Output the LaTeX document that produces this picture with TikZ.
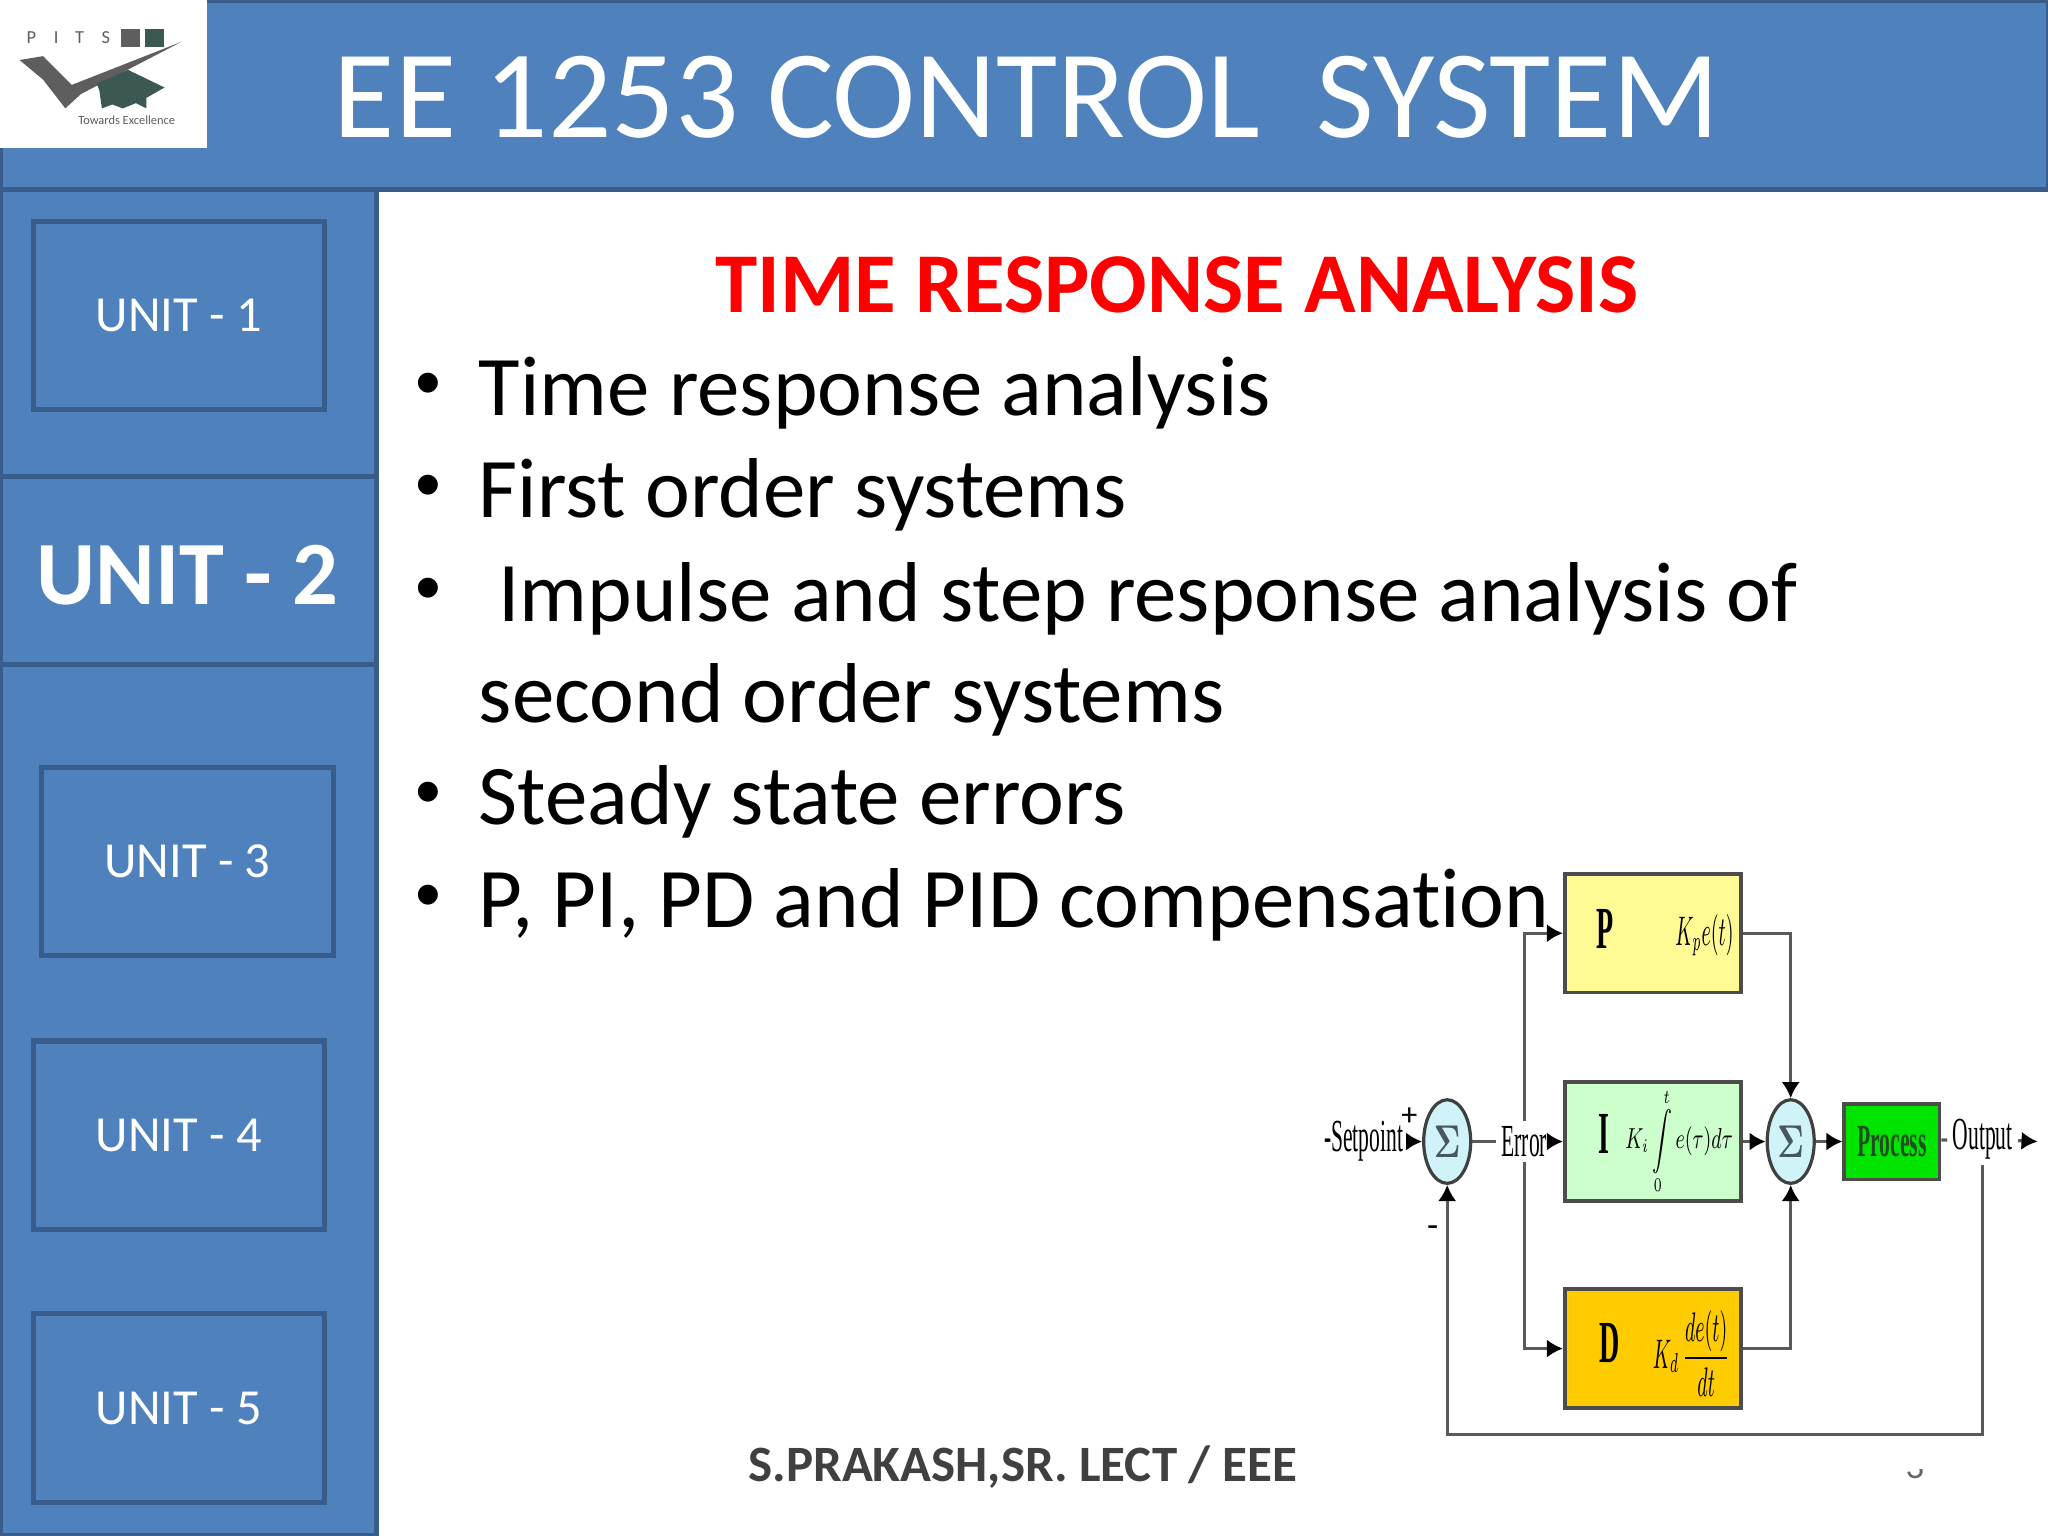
\documentclass[tikz,border=0pt]{standalone}
\usepackage{amsmath}
\usepackage{graphicx}
\usepackage{fontspec}
\setmainfont[Ligatures=NoCommon]{Carlito}
\newfontfamily\blockfont{Liberation Serif}
\newfontfamily\dotfont{Liberation Sans}
\usetikzlibrary{arrows.meta}
\usetikzlibrary{positioning}
\usetikzlibrary{shapes.geometric}
\definecolor{slideblue}{HTML}{4F81BD}
\definecolor{slideedge}{HTML}{385D8A}
\definecolor{linegray}{HTML}{5A5A5A}
\definecolor{logogray}{HTML}{5E5E5E}
\definecolor{logoteal}{HTML}{3C5853}
\definecolor{sigmafill}{HTML}{CFF3F8}
\definecolor{labelgreen}{HTML}{1F4F1F}
\newcommand{\narrowtext}[1]{\scalebox{.47}[1]{#1}}
\tikzset{panel/.style = {fill=slideblue, draw=slideedge, line width=1.1pt},
         unitbox/.style = {draw=slideedge, fill=slideblue, line width=1.1pt,
                           minimum width=2.23cm, minimum height=1.44cm,
                           text=white, font=\fontsize{11}{13}\selectfont},
         bullet/.style = {anchor=base, inner sep=0pt, font=\dotfont\fontsize{16}{19}\selectfont},
         topic/.style = {anchor=base west, inner sep=0pt, font=\fontsize{18.5}{22}\selectfont},
         block/.style = {draw=black!70, line width=.8pt, minimum width=1.35cm,
                         minimum height=.91cm},
         sumnode/.style = {draw=black!75, fill=sigmafill, ellipse, line width=.7pt,
                           minimum width=.36cm, minimum height=.64cm, inner sep=0pt,
                           text=black!70!cyan},
         flowline/.style = {draw=linegray, line width=.7pt},
         flowarrow/.style = {flowline, -{Latex[black,length=3.5pt,width=4pt]}},
         blocklabel/.style = {font=\blockfont\bfseries\fontsize{13}{15}\selectfont, inner sep=0pt},
         signal/.style = {font=\blockfont\fontsize{10}{12}\selectfont, inner sep=1pt, fill=white}}

\begin{document}
\begin{tikzpicture}[y=-1cm]
    \useasboundingbox (0, 0) rectangle (15.68, 11.76);

    % header and side panel
    \draw [panel] (0, 0) rectangle (15.68, 1.45);
    \draw [panel] (0, 1.45) rectangle (2.88, 3.65);
    \draw [panel] (0, 3.65) rectangle (2.88, 5.09);
    \draw [panel] (0, 5.09) rectangle (2.88, 11.76);
    \fill [white] (0, 0) rectangle (1.585, 1.135);

    % logo
    \node (logoP) [font=\fontsize{4}{4}\selectfont, text=logogray] at (.24, .29) {P};
    \node (logoI) [font=\fontsize{4}{4}\selectfont, text=logogray] at (.43, .29) {I};
    \node (logoT) [font=\fontsize{4}{4}\selectfont, text=logogray] at (.61, .29) {T};
    \node (logoS) [font=\fontsize{4}{4}\selectfont, text=logogray] at (.81, .29) {S};
    \fill [logogray] (.93, .22) rectangle (1.07, .36);
    \fill [logoteal] (1.11, .22) rectangle (1.255, .36);
    \fill [logogray] (.15, .46) -- (.33, .43) -- (.55, .65) -- (1.39, .32)
        -- (.62, .72) -- (.5, .83) -- (.33, .61) -- cycle;
    \fill [logoteal] (.74, .64) -- (.98, .535) -- (1.26, .67) -- (1.12, .75)
        -- (1.12, .83) -- (1.04, .79) -- (.94, .83) -- (.86, .8) -- (.78, .83)
        -- (.76, .69) -- cycle;
    \node (logotext) [font=\fontsize{2.7}{3}\selectfont, text=logogray] at (.97, .92) {Towards Excellence};

    \node (title) [text=white, font=\fontsize{27.3}{32}\selectfont, anchor=base west, inner sep=0pt]
        at (2.55, 1.05) {EE 1253 CONTROL\ \ SYSTEM};

    % units
    \node (unit1) [unitbox] at (1.37, 2.415) {UNIT - 1};
    \node (unit2) [text=white, font=\bfseries\fontsize{19.7}{24}\selectfont] at (1.435, 4.4) {UNIT - 2};
    \node (unit3) [unitbox] at (1.435, 6.595) {UNIT - 3};
    \node (unit4) [unitbox] at (1.37, 8.69) {UNIT - 4};
    \node (unit5) [unitbox] at (1.37, 10.78) {UNIT - 5};

    % topics
    \node (heading) [text=red, font=\bfseries\fontsize{18.55}{22}\selectfont] at (9.01, 2.18) {TIME RESPONSE ANALYSIS};
    \node (dot1) [bullet] at (3.28, 3.12) {•};
    \node (topic1) [topic] at (3.66, 3.185) {Time response analysis};
    \node (dot2) [bullet] at (3.28, 3.9) {•};
    \node (topic2) [topic] at (3.66, 3.965) {First order systems};
    \node (dot3) [bullet] at (3.28, 4.69) {•};
    \node (topic3) [topic] at (3.81, 4.755) {Impulse and step response analysis of};
    \node (topic3b) [topic] at (3.66, 5.535) {second order systems};
    \node (dot4) [bullet] at (3.28, 6.25) {•};
    \node (topic4) [topic] at (3.66, 6.315) {Steady state errors};
    \node (dot5) [bullet] at (3.28, 7.04) {•};
    \node (topic5) [topic] at (3.66, 7.105) {P, PI, PD and PID compensation};

    \node (footer) [text=black!75, font=\bfseries\fontsize{11.1}{13}\selectfont] at (7.83, 11.23) {S.PRAKASH,SR. LECT / EEE};
    \begin{scope}
      \clip (14.4, 11.25) rectangle (14.9, 11.4);
      \node (pageno) [text=black!60, font=\fontsize{8}{8}\selectfont, anchor=base] at (14.66, 11.32) {3};
    \end{scope}

    % controller blocks
    \node (pblock) [block, fill=yellow!42] at (12.655, 7.145) {};
    \node (iblock) [block, fill=green!20!white] at (12.655, 8.74) {};
    \node (dblock) [block, fill=orange!40!yellow] at (12.655, 10.325) {};
    \node (process) [block, fill=green!90!black, minimum width=.73cm, minimum height=.58cm] at (14.485, 8.74) {};
    \node (processtext) [font=\blockfont\bfseries\fontsize{10}{12}\selectfont, text=labelgreen] at (14.485, 8.74) {\narrowtext{Process}};
    \node (sum1) [sumnode] at (11.08, 8.74) {\scalebox{.7}[1]{$\boldsymbol{\Sigma}$}};
    \node (sum2) [sumnode] at (13.71, 8.74) {\scalebox{.7}[1]{$\boldsymbol{\Sigma}$}};

    \node (plabel) [blocklabel] at (12.29, 7.11) {\narrowtext{P}};
    \node (ilabel) [blocklabel] at (12.28, 8.68) {\narrowtext{I}};
    \node (dlabel) [blocklabel] at (12.32, 10.28) {\narrowtext{D}};
    \node (pgain) [inner sep=0pt, font=\fontsize{9}{11}\selectfont] at (13.05, 7.16) {\narrowtext{$K_p e(t)$}};
    \node (igain) [inner sep=0pt, font=\fontsize{9}{11}\selectfont] at (12.855, 8.74) {\scalebox{.47}[.7]{$K_i\displaystyle\int\limits_0^t e(\tau)d\tau$}};
    \node (dgain) [inner sep=0pt, font=\fontsize{9}{11}\selectfont] at (12.95, 10.36) {\narrowtext{$K_d\,\dfrac{de(t)}{dt}$}};

    \node (setpoint) [signal] at (10.44, 8.74) {\narrowtext{-Setpoint}};
    \node (error) [signal] at (11.67, 8.74) {\narrowtext{Error}};
    \node (output) [signal] at (15.18, 8.72) {\narrowtext{Output}};
    \node (plus) [font=\fontsize{7}{7}\selectfont, inner sep=0pt] at (10.79, 8.55) {+};
    \node (minus) [font=\fontsize{8}{8}\selectfont, inner sep=0pt] at (10.97, 9.43) {-};
    \coordinate (outend) at (15.6, 8.74);
    \coordinate (corner) at (15.18, 10.98);

    % connectors
    \draw [flowarrow] (setpoint) -- (sum1);
    \draw [flowline] (sum1) -- (error);
    \draw [flowarrow] (error) -- (iblock);
    \draw [flowarrow] (error) |- (pblock);
    \draw [flowarrow] (error) |- (dblock);
    \draw [flowarrow] (pblock) -| (sum2);
    \draw [flowarrow] (iblock) -- (sum2);
    \draw [flowarrow] (dblock) -| (sum2);
    \draw [flowarrow] (sum2) -- (process);
    \draw [flowline] (process) -- (output);
    \draw [flowarrow] (output) -- (outend);
    \draw [flowarrow] (output) -- (corner) -| (sum1);
\end{tikzpicture}
\end{document}
